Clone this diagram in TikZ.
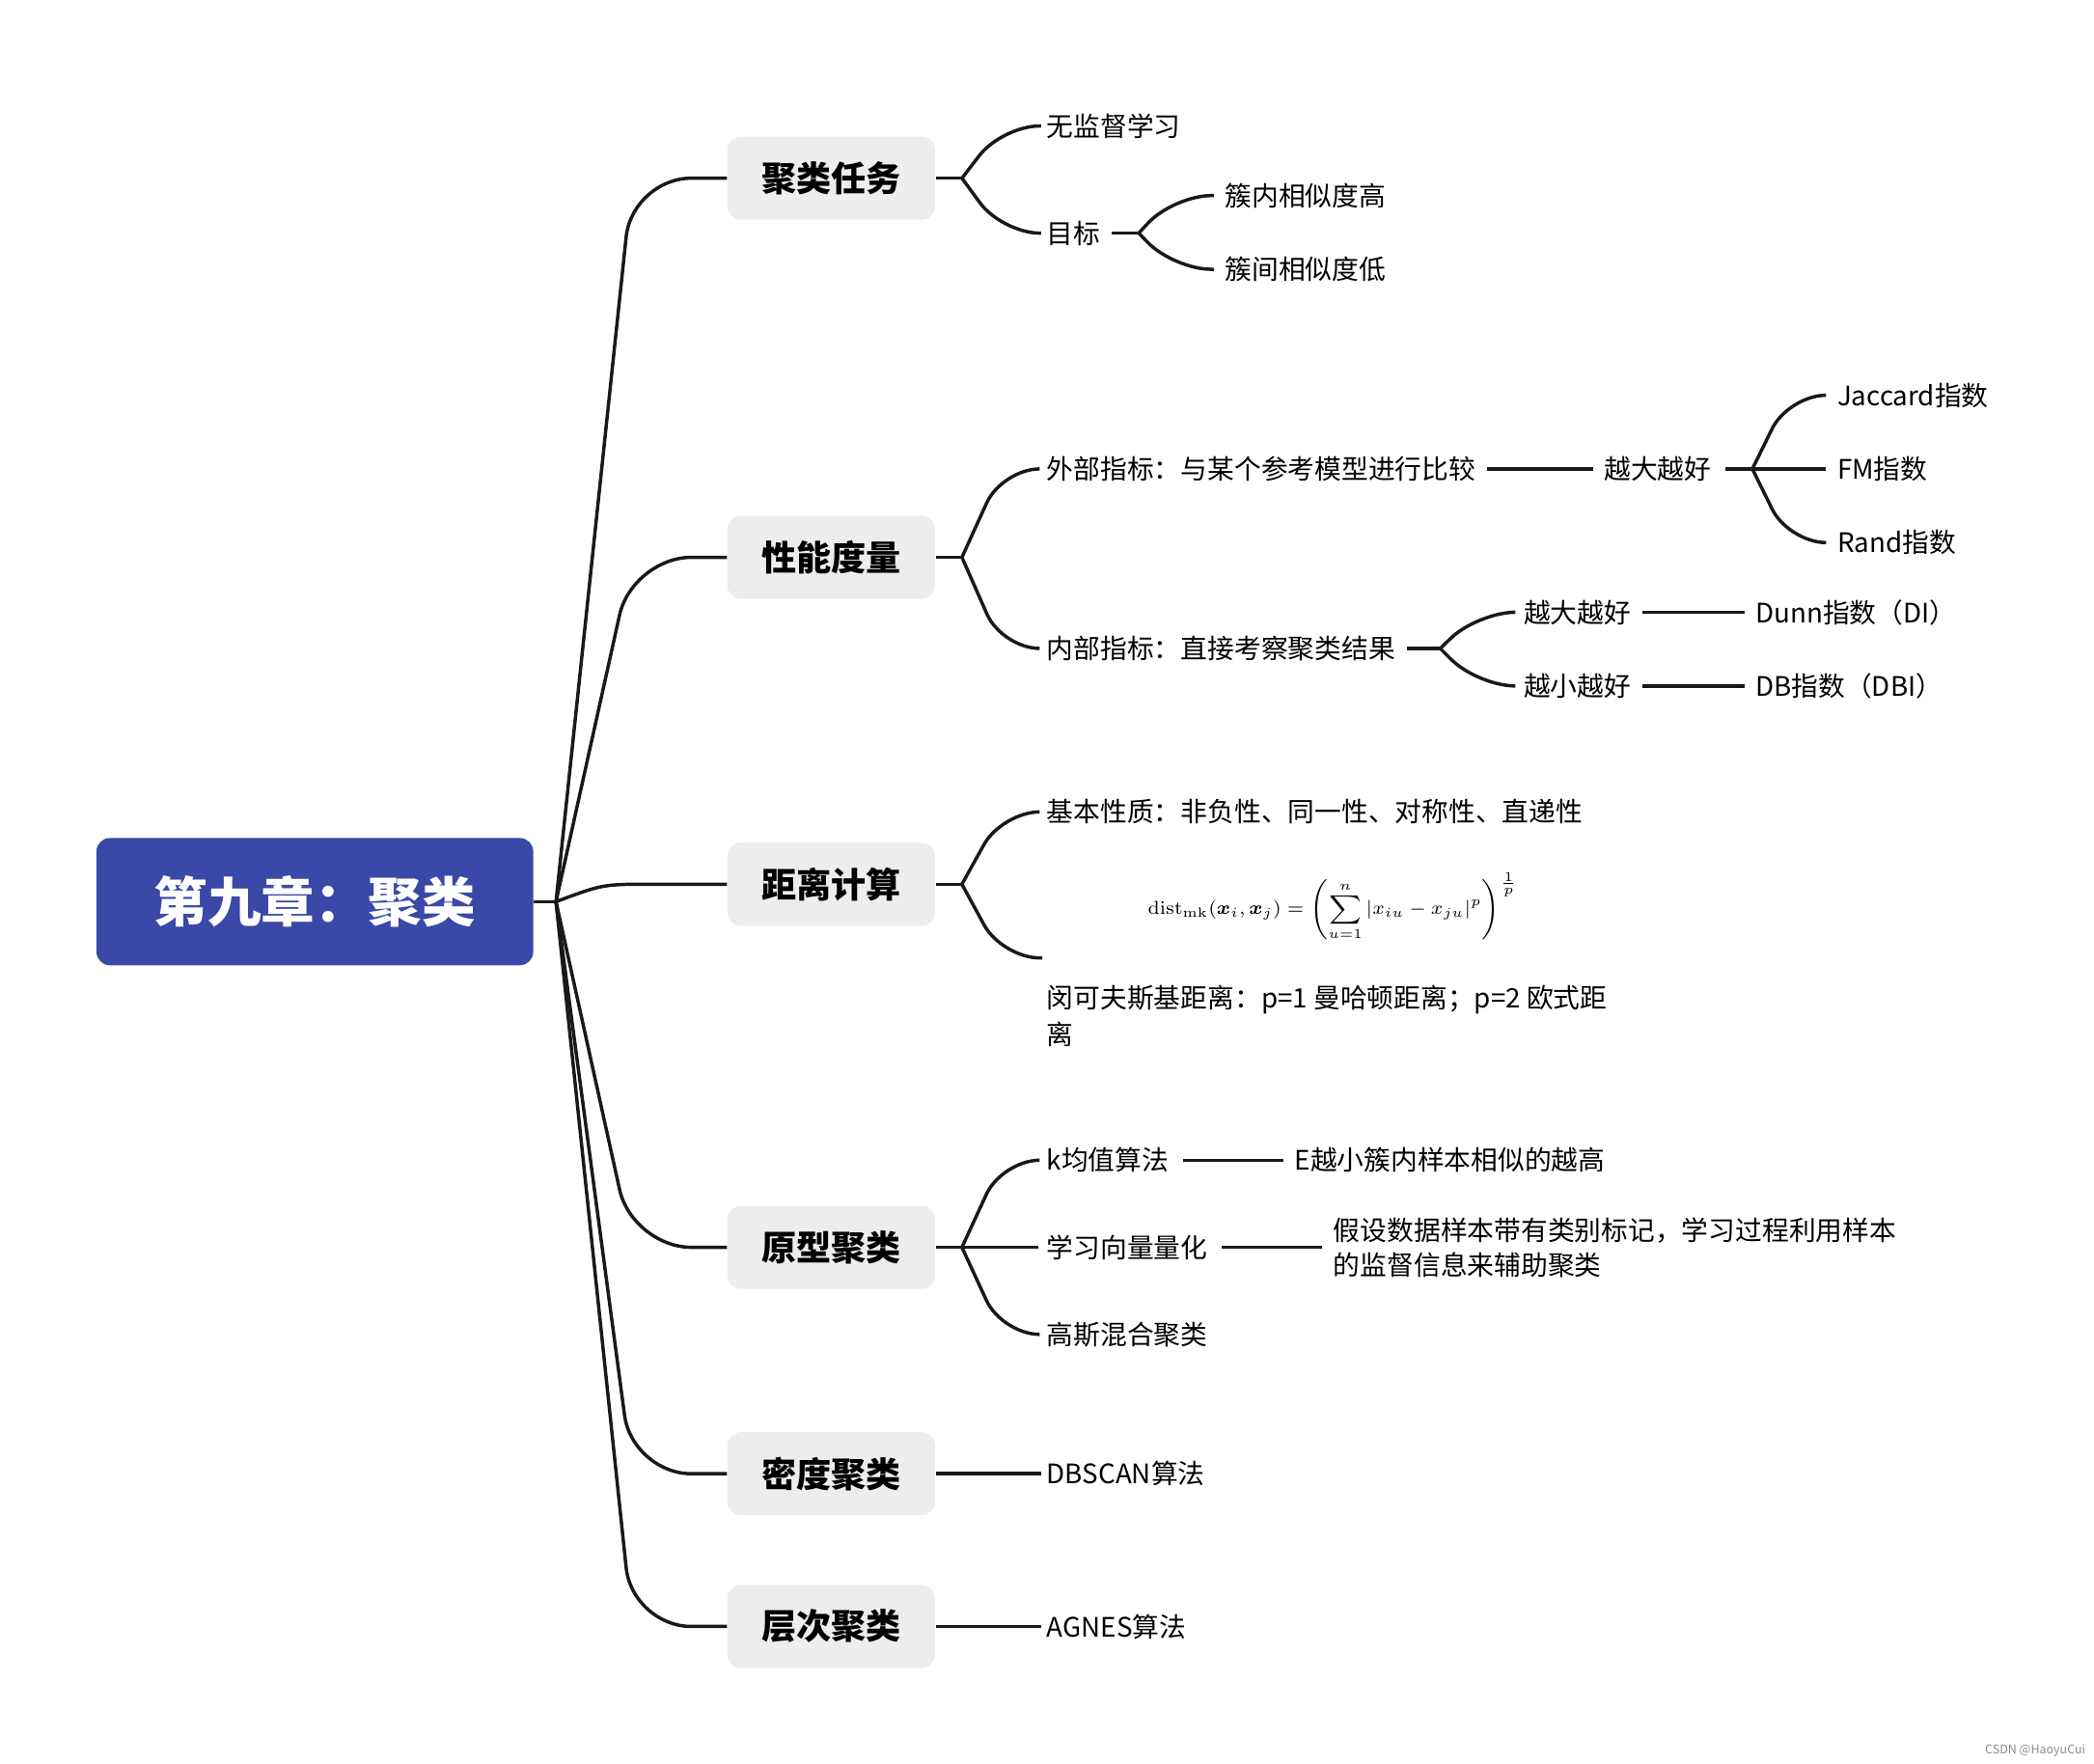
\documentclass[tikz,border=0pt]{standalone}
\usepackage{amsmath}
\usepackage[no-math]{fontspec}
\setmainfont{Noto Sans CJK SC}
\begin{document}
\begin{tikzpicture}[x=0.5pt,y=-0.5pt,
  ln/.style={line width=1.25pt,black!90},
  br/.style={ln,rounded corners=14pt},
  rb/.style={ln,rounded corners=22pt},
  t/.style={anchor=west,inner sep=0pt,font=\fontsize{10}{12}\selectfont},
  box/.style={fill=black!7,rounded corners=5pt,minimum width=77.5pt,minimum height=31pt,font=\fontsize{13}{15}\selectfont\bfseries},
]
\useasboundingbox (0,0) rectangle (1563,1316);
\node[fill={rgb,255:red,58;green,73;blue,168},rounded corners=5pt,minimum width=163pt,minimum height=47.5pt,text=white,font=\fontsize{20}{24}\selectfont\bfseries] (root) at (235,673) {第九章：聚类};
\coordinate (r0) at (415,673);
\draw[ln] (root.east) -- (r0);
% level 1
\node[box] (a) at (620.5,133) {聚类任务};
\node[box] (b) at (620.5,416) {性能度量};
\node[box] (c) at (620.5,660) {距离计算};
\node[box] (d) at (620.5,931) {原型聚类};
\node[box] (e) at (620.5,1100) {密度聚类};
\node[box] (f) at (620.5,1214) {层次聚类};
\draw[rb] (r0) -- (472,133) -- (a.west);
\draw[rb] (r0) -- (472,416) -- (b.west);
\draw[ln] (r0) .. controls (450,660) .. (485,660) -- (c.west);
\draw[rb] (r0) -- (472,931) -- (d.west);
\draw[rb] (r0) -- (472,1100) -- (e.west);
\draw[rb] (r0) -- (472,1214) -- (f.west);
% junction coords
\foreach \n/\y in {a/133,b/416,c/660,d/931}{\coordinate (\n j) at (718,\y); \draw[ln] (\n.east) -- (\n j);}
% a
\node[t] (a1) at (781,94) {无监督学习};
\node[t] (a2) at (781,174) {目标};
\draw[br] (aj) -- (748,94) -- ([xshift=-2pt]a1.west);
\draw[br] (aj) -- (748,174) -- ([xshift=-2pt]a2.west);
\coordinate (a2j) at (850,174);
\draw[ln] ([xshift=4pt]a2.east) -- (a2j);
\node[t] (a21) at (914,146) {簇内相似度高};
\node[t] (a22) at (914,201) {簇间相似度低};
\draw[br] (a2j) -- (876,146) -- ([xshift=-4pt]a21.west);
\draw[br] (a2j) -- (876,201) -- ([xshift=-4pt]a22.west);
% b
\node[t] (b1) at (781,350) {外部指标：与某个参考模型进行比较};
\node[t] (b2) at (781,484) {内部指标：直接考察聚类结果};
\draw[br] (bj) -- (748,350) -- ([xshift=-3pt]b1.west);
\draw[br] (bj) -- (748,484) -- ([xshift=-3pt]b2.west);
\node[t] (b11) at (1197,350) {越大越好};
\draw[ln] ([xshift=4pt]b1.east) -- ([xshift=-4pt]b11.west);
\coordinate (b11j) at (1308,350);
\draw[ln] ([xshift=5pt]b11.east) -- (b11j);
\node[t] (j1) at (1371,295) {Jaccard指数};
\node[t] (j2) at (1371,350) {FM指数};
\node[t] (j3) at (1371,405) {Rand指数};
\foreach \k/\y in {1/295,2/350,3/405}{\draw[br] (b11j) -- (1335,\y) -- ([xshift=-4pt]j\k.west);}
\coordinate (b2j) at (1075,484);
\draw[ln] ([xshift=4pt]b2.east) -- (b2j);
\node[t] (i1) at (1137,457) {越大越好};
\node[t] (i2) at (1137,512) {越小越好};
\draw[br] (b2j) -- (1103,457) -- ([xshift=-4pt]i1.west);
\draw[br] (b2j) -- (1103,512) -- ([xshift=-4pt]i2.west);
\node[t] (i11) at (1310,457) {Dunn指数（DI）};
\node[t] (i21) at (1310,512) {DB指数（DBI）};
\draw[ln] ([xshift=4pt]i1.east) -- ([xshift=-4pt]i11.west);
\draw[ln] ([xshift=4pt]i2.east) -- ([xshift=-4pt]i21.west);
% c
\node[t] (c1) at (781,606) {基本性质：非负性、同一性、对称性、直递性};
\coordinate (c2) at (778,715);
\draw[br] (cj) -- (748,606) -- ([xshift=-3pt]c1.west);
\draw[br] (cj) -- (748,715) -- (c2);
\node[inner sep=0pt,font=\fontsize{7.5}{9}\selectfont] (fm) at (995,677) {$\displaystyle \operatorname{dist}_{\mathrm{mk}}(\boldsymbol{x}_i,\boldsymbol{x}_j)=\left(\sum_{u=1}^{n}|x_{iu}-x_{ju}|^p\right)^{\frac{1}{p}}$};
\node[t,anchor=north west,align=left,font=\fontsize{10}{13.5}\selectfont] (c3) at (781,735) {闵可夫斯基距离：p=1 曼哈顿距离；p=2 欧式距\\离};
% d
\node[t] (d1) at (781,866) {k均值算法};
\node[t] (d2) at (781,931) {学习向量量化};
\node[t] (d3) at (781,996) {高斯混合聚类};
\draw[br] (dj) -- (748,866) -- ([xshift=-3pt]d1.west);
\draw[ln] (dj) -- ([xshift=-3pt]d2.west);
\draw[br] (dj) -- (748,996) -- ([xshift=-3pt]d3.west);
\node[t] (d11) at (966,866) {E越小簇内样本相似的越高};
\draw[ln] ([xshift=5pt]d1.east) -- ([xshift=-4pt]d11.west);
\node[t,align=left,font=\fontsize{10}{13}\selectfont] (d21) at (995,931) {假设数据样本带有类别标记，学习过程利用样本\\的监督信息来辅助聚类};
\draw[ln] ([xshift=5pt]d2.east) -- ([xshift=-4pt]d21.west);
% e f
\node[t] (e1) at (781,1100) {DBSCAN算法};
\node[t] (f1) at (781,1214) {AGNES算法};
\draw[ln] (e.east) -- ([xshift=-2pt]e1.west);
\draw[ln] (f.east) -- ([xshift=-2pt]f1.west);
\node[anchor=east,inner sep=0pt,text=black!45,font=\fontsize{4.5}{5}\selectfont] (wm) at (1557,1307) {CSDN @HaoyuCui};
\end{tikzpicture}
\end{document}
